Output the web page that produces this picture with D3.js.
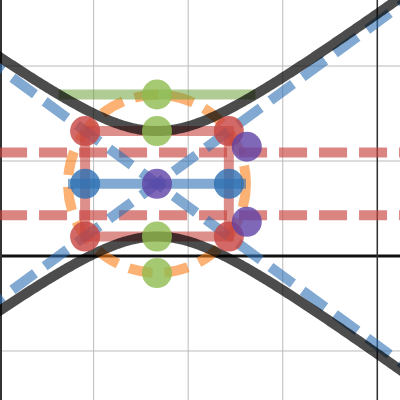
<!DOCTYPE html>
<html><head><meta charset="utf-8">
<script src="https://cdn.jsdelivr.net/npm/d3@7"></script>
<style>body{margin:0;background:#fff}</style>
</head><body>
<div id="chart"></div>
<script>
// hyperbola (y-k)^2/a^2 - (x-h)^2/b^2 = 1
const center = [-2.33, 0.76]
const semiA = 0.555, semiB = 0.76
const focal = Math.sqrt(semiA * semiA + semiB * semiB)
const gridX = [-4, -3, -2, -1, 0]
const gridY = [-1, 0, 1, 2]
const redPoints = [[-3.09, 1.315], [-1.57, 1.315], [-3.09, 0.205], [-1.57, 0.205]]
const greenPoints = [[-2.33, 1.70], [-2.33, 1.315], [-2.33, 0.205], [-2.33, -0.18]]
const bluePoints = [[-3.09, 0.76], [-1.57, 0.76]]
const purplePoints = [[-2.33, 0.76], [-1.38, 1.15], [-1.38, 0.36]]
const directrices = [1.09, 0.43]

const W = 400, H = 400
const x = d3.scaleLinear().domain([-3.99, 0.24]).range([0, W])
const y = d3.scaleLinear().domain([2.695, -1.516]).range([0, H])
const svg = d3.select("#chart").append("svg").attr("width", W).attr("height", H)

// grid
svg.selectAll(".gx").data(gridX).enter().append("line")
    .attr("x1", d => x(d)).attr("x2", d => x(d)).attr("y1", 0).attr("y2", H)
    .attr("stroke", "#bbb").attr("stroke-width", 1)
svg.selectAll(".gy").data(gridY).enter().append("line")
    .attr("y1", d => y(d)).attr("y2", d => y(d)).attr("x1", 0).attr("x2", W)
    .attr("stroke", "#bbb").attr("stroke-width", 1)
// axes
svg.append("line").attr("x1", 0).attr("x2", W).attr("y1", y(0)).attr("y2", y(0)).attr("stroke", "#111").attr("stroke-width", 3)
svg.append("line").attr("y1", 0).attr("y2", H).attr("x1", x(0)).attr("x2", x(0)).attr("stroke", "#333").attr("stroke-width", 1.5)
svg.append("line").attr("y1", 0).attr("y2", H).attr("x1", 1).attr("x2", 1).attr("stroke", "#333").attr("stroke-width", 2)

const line = d3.line().x(d => x(d[0])).y(d => y(d[1]))
const [h, k] = center

// orange dashed circle of radius c
svg.append("circle").attr("cx", x(h)).attr("cy", y(k))
    .attr("r", x(h + focal) - x(h))
    .attr("fill", "none").attr("stroke", "#fa7e19").attr("stroke-opacity", 0.6)
    .attr("stroke-width", 10).attr("stroke-dasharray", "24 12")

// directrices
directrices.forEach(v => {
    svg.append("path").attr("d", line([[-4, v], [0.3, v]]))
        .attr("stroke", "#c74440").attr("stroke-opacity", 0.65).attr("stroke-width", 10)
        .attr("stroke-dasharray", "28 12").attr("fill", "none")
})

// red box
const box = [[h - semiB, k + semiA], [h + semiB, k + semiA], [h + semiB, k - semiA], [h - semiB, k - semiA], [h - semiB, k + semiA]]
svg.append("path").attr("d", line(box)).attr("fill", "none")
    .attr("stroke", "#c74440").attr("stroke-opacity", 0.6).attr("stroke-width", 10)

// blue horizontal segment
svg.append("path").attr("d", line([[h - focal, k], [h + focal, k]]))
    .attr("stroke", "#2d70b3").attr("stroke-opacity", 0.6).attr("stroke-width", 10)

// latus rectum
const lr = semiB * semiB / semiA
svg.append("path").attr("d", line([[h - lr, k + focal], [h + lr, k + focal]]))
    .attr("stroke", "#6ca23a").attr("stroke-opacity", 0.55).attr("stroke-width", 10)

// asymptotes
const slope = semiA / semiB
;[slope, -slope].forEach(m => {
    svg.append("path").attr("d", line([[-4.2, k + m * (-4.2 - h)], [0.4, k + m * (0.4 - h)]]))
        .attr("stroke", "#2d70b3").attr("stroke-opacity", 0.6).attr("stroke-width", 10)
        .attr("stroke-dasharray", "28 12").attr("fill", "none")
})

// hyperbola branches
const xs = d3.range(-4.2, 0.45, 0.02)
;[1, -1].forEach(s => {
    svg.append("path")
        .attr("d", line(xs.map(t => [t, k + s * semiA * Math.sqrt(1 + ((t - h) / semiB) ** 2)])))
        .attr("fill", "none").attr("stroke", "#000").attr("stroke-opacity", 0.7).attr("stroke-width", 10)
})

// points
const dots = (pts, col) => svg.selectAll(null).data(pts).enter().append("circle")
    .attr("cx", d => x(d[0])).attr("cy", d => y(d[1])).attr("r", 15)
    .attr("fill", col).attr("fill-opacity", 0.8)
dots(redPoints, "#c74440")
dots(greenPoints, "#8fbc4f")
dots(bluePoints, "#2d70b3")
dots(purplePoints, "#6042a6")
</script>
</body></html>
